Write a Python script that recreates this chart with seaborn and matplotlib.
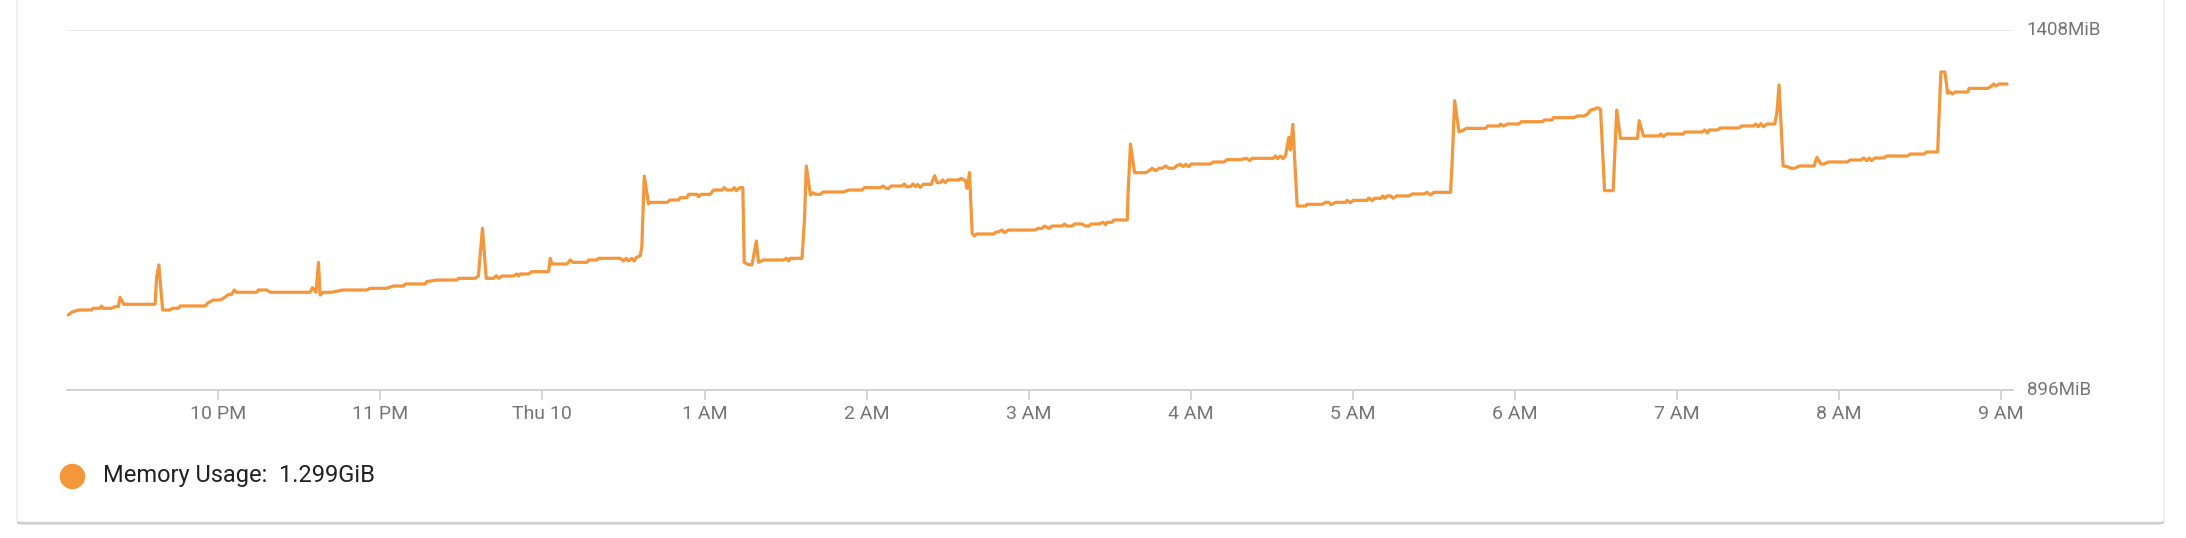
import numpy as np
import pandas as pd
import matplotlib
matplotlib.use("Agg")
import matplotlib.pyplot as plt
from matplotlib.patches import FancyBboxPatch
from matplotlib.lines import Line2D
import seaborn as sns

# ---------------- data ----------------
# minutes after 21:00 (Wed 9) and memory usage in MiB
minutes = [
    4.5, 5.7, 8.2, 13.1, 13.7, 16.2, 16.8, 17.4, 20.5, 21.8, 23.0, 23.6, 25.1, 36.6, 37.2, 38.0,
    39.4, 42.1, 43.1, 45.2, 45.9, 55.1, 56.3, 58.2, 60.7, 61.9, 63.8, 65.0, 65.9, 66.8, 74.2,
    74.9, 78.0, 79.2, 94.0, 94.9, 96.2, 97.1, 97.7, 98.9, 102.0, 106.1, 115.0, 116.2, 122.2,
    124.9, 128.6, 129.2, 136.6, 137.2, 140.9, 148.3, 149.0, 155.1, 156.3, 157.8, 159.2, 161.9,
    162.9, 163.8, 165.0, 169.3, 170.5, 171.2, 171.8, 174.9, 176.1, 182.3, 182.9, 183.5, 189.1,
    190.3, 191.3, 196.5, 197.1, 200.2, 200.8, 208.8, 210.0, 211.0, 211.9, 213.1, 214.0, 214.7,
    216.2, 216.8, 217.7, 219.3, 219.9, 226.1, 227.3, 230.4, 231.0, 233.5, 234.1, 237.2, 237.8,
    238.7, 242.1, 243.4, 246.5, 247.3, 248.3, 250.2, 251.0, 251.8, 253.0, 254.2, 254.7, 256.3,
    257.6, 259.2, 260.0, 261.9, 269.3, 270.3, 271.2, 271.8, 276.1, 277.0, 277.7, 279.2, 280.2,
    281.1, 282.9, 283.9, 291.5, 293.4, 298.3, 299.2, 305.1, 306.1, 307.3, 308.2, 309.0, 313.1,
    314.0, 314.7, 316.2, 317.2, 318.1, 318.9, 319.9, 320.9, 323.9, 325.2, 326.1, 327.3, 328.2,
    329.2, 330.0, 334.1, 335.0, 336.6, 337.2, 338.1, 339.1, 339.9, 340.9, 347.1, 347.7, 348.9,
    350.2, 351.0, 352.6, 362.5, 363.4, 365.0, 365.9, 367.5, 368.7, 372.4, 373.3, 374.2, 376.1,
    377.0, 379.8, 381.0, 382.3, 383.1, 386.0, 387.6, 388.4, 389.1, 390.9, 391.5, 396.5, 396.8,
    397.7, 399.2, 403.3, 404.5, 405.7, 407.0, 408.2, 409.4, 410.7, 411.9, 413.8, 414.7, 416.2,
    417.2, 418.1, 419.3, 420.2, 427.3, 428.3, 432.3, 433.5, 438.4, 440.6, 441.9, 442.7, 450.5,
    451.4, 452.2, 453.2, 454.2, 455.1, 456.3, 456.9, 457.8, 459.4, 462.5, 463.1, 468.7, 469.9,
    471.1, 472.0, 473.6, 477.3, 477.9, 479.1, 480.1, 485.3, 485.9, 487.2, 488.0, 490.3, 491.1,
    491.9, 492.7, 494.0, 494.9, 496.2, 500.8, 502.0, 506.3, 507.5, 508.8, 510.0, 516.2, 516.8,
    517.7, 519.3, 520.5, 522.1, 529.1, 530.0, 534.1, 534.7, 535.9, 537.2, 541.5, 542.4, 550.1,
    551.0, 553.8, 554.2, 561.9, 563.1, 565.6, 566.8, 568.0, 569.3, 570.5, 571.7, 573.2, 576.4,
    577.7, 579.1, 585.4, 586.0, 587.6, 593.4, 594.0, 595.0, 596.2, 602.4, 603.0, 609.4, 610.3,
    611.3, 611.9, 615.0, 616.0, 623.0, 623.9, 628.3, 629.2, 630.1, 631.1, 632.0, 633.3, 636.2,
    637.0, 637.8, 639.3, 640.9, 642.4, 643.6, 645.3, 650.8, 651.8, 653.3, 654.5, 656.0, 663.2,
    664.1, 668.1, 669.1, 670.3, 671.2, 672.0, 673.3, 676.7, 677.6, 685.4, 686.4, 691.5, 692.4,
    696.5, 697.7, 699.2, 700.2, 700.8, 702.0, 702.9, 707.6, 708.2, 715.0, 716.2, 717.2, 718.1,
    719.3, 722.2,
]
memory_mib = [
    1002.7, 1006.5, 1009.8, 1009.8, 1012.2, 1012.2, 1015.5, 1012.2, 1012.2, 1014.5, 1014.5, 1027.8, 1017.9, 1017.9, 1057.0, 1073.8,
    1009.8, 1009.8, 1012.2, 1012.2, 1015.5, 1015.5, 1020.2, 1024.0, 1024.0, 1026.4, 1032.0, 1032.0, 1038.2, 1035.0, 1035.0,
    1038.2, 1038.2, 1035.0, 1035.0, 1041.6, 1035.0, 1077.5, 1031.0, 1035.0, 1035.0, 1038.2, 1038.2, 1040.6, 1040.6,
    1043.9, 1043.9, 1046.8, 1046.8, 1050.1, 1052.4, 1052.4, 1054.8, 1054.8, 1058.1, 1125.9, 1054.8, 1054.8,
    1058.6, 1054.8, 1058.1, 1058.1, 1061.0, 1058.1, 1061.0, 1061.0, 1064.3, 1064.3, 1083.3, 1075.2, 1075.2,
    1080.9, 1077.6, 1077.6, 1080.9, 1080.9, 1083.3, 1083.3, 1079.5, 1083.3, 1079.5, 1083.3, 1079.5, 1084.2,
    1087.1, 1099.8, 1200.3, 1160.5, 1162.9, 1162.9, 1166.2, 1166.2, 1169.5, 1169.5, 1174.3, 1174.3, 1171.0,
    1174.3, 1174.3, 1180.4, 1180.4, 1183.8, 1180.4, 1180.4, 1183.8, 1179.5, 1183.8, 1183.8, 1077.6, 1074.2,
    1074.2, 1107.9, 1077.6, 1080.9, 1080.9, 1083.3, 1079.5, 1083.3, 1083.3, 1137.8, 1214.6, 1173.3, 1176.6,
    1174.3, 1174.3, 1177.6, 1177.6, 1180.4, 1180.4, 1183.8, 1183.8, 1186.1, 1182.8, 1182.8, 1186.1, 1186.1,
    1189.0, 1185.2, 1185.2, 1189.0, 1185.2, 1188.5, 1184.2, 1188.5, 1188.5, 1200.8, 1190.9, 1190.9, 1194.7,
    1190.9, 1194.7, 1194.7, 1197.0, 1193.7, 1182.8, 1205.1, 1118.8, 1115.0, 1117.9, 1117.9, 1120.2, 1121.2,
    1123.5, 1119.7, 1123.5, 1123.5, 1125.9, 1125.9, 1129.2, 1125.9, 1129.2, 1129.2, 1132.1, 1129.2, 1129.2,
    1132.1, 1132.1, 1129.2, 1129.2, 1132.1, 1132.1, 1134.5, 1131.1, 1134.5, 1134.5, 1137.8, 1137.8, 1175.7,
    1245.9, 1205.1, 1205.1, 1207.5, 1211.3, 1207.9, 1211.3, 1211.3, 1214.6, 1211.3, 1211.3, 1214.6, 1217.0,
    1213.7, 1217.0, 1213.7, 1217.4, 1217.4, 1220.3, 1220.3, 1223.6, 1223.6, 1225.5, 1222.2, 1225.5, 1225.5,
    1228.8, 1225.0, 1228.8, 1225.0, 1229.3, 1255.3, 1237.3, 1273.8, 1157.7, 1157.7, 1160.1, 1160.1, 1162.9,
    1162.9, 1159.6, 1162.9, 1162.9, 1165.7, 1162.4, 1165.7, 1165.7, 1169.1, 1165.2, 1168.6, 1168.6, 1172.0,
    1168.6, 1172.0, 1172.0, 1168.6, 1172.0, 1172.0, 1174.8, 1174.8, 1177.1, 1173.3, 1177.1, 1177.1, 1223.1,
    1307.5, 1263.4, 1264.8, 1268.1, 1268.1, 1271.5, 1271.5, 1274.3, 1271.5, 1274.3, 1274.3, 1277.6, 1277.6,
    1280.0, 1280.0, 1283.3, 1283.3, 1285.7, 1285.7, 1288.1, 1294.2, 1295.2, 1297.5, 1295.2, 1179.5, 1179.5,
    1294.2, 1253.9, 1253.9, 1279.1, 1257.3, 1257.3, 1260.1, 1256.3, 1260.1, 1260.1, 1262.9, 1262.9, 1265.8,
    1261.5, 1265.8, 1265.8, 1268.6, 1268.6, 1271.5, 1271.5, 1274.3, 1270.5, 1274.8, 1270.5, 1274.3, 1274.3,
    1290.4, 1329.8, 1214.6, 1213.6, 1211.3, 1211.3, 1214.6, 1214.6, 1226.9, 1217.4, 1217.4, 1220.3, 1220.3,
    1223.1, 1223.1, 1226.0, 1222.2, 1226.0, 1222.2, 1226.0, 1226.0, 1228.8, 1228.8, 1231.6, 1231.6, 1234.5,
    1234.5, 1348.3, 1348.3, 1317.9, 1320.3, 1317.0, 1319.8, 1319.8, 1325.0, 1325.0, 1327.4, 1331.2, 1328.4,
    1331.2, 1331.2,
]
y_range = [896, 1408]
y_tick_labels = ["896MiB", "1408MiB"]
x_tick_labels = ["10 PM", "11 PM", "Thu 10", "1 AM", "2 AM", "3 AM", "4 AM",
                 "5 AM", "6 AM", "7 AM", "8 AM", "9 AM"]
legend_label = "Memory Usage:  1.299GiB"

base = pd.Timestamp("2019-10-09 21:00")
df = pd.DataFrame({
    "time": base + pd.to_timedelta(minutes, unit="min"),
    "mib": memory_mib,
})

# ---------------- style ----------------
ORANGE = "#F4963A"
sns.set_theme(style="white")
plt.rcParams["font.family"] = ["Roboto", "DejaVu Sans"]

W, H = 2186, 538
fig = plt.figure(figsize=(W / 100, H / 100), dpi=100)
fig.patch.set_facecolor("white")

# card background with shadow
card_l, card_r, card_b = 17 / W, 2164 / W, (H - 522) / H
shadow = FancyBboxPatch((card_l, card_b - 2.5 / H), card_r - card_l, 1.1 - card_b,
                        boxstyle="round,pad=0,rounding_size=0.003",
                        transform=fig.transFigure, facecolor="#c9c9c9",
                        edgecolor="none", zorder=-3)
card = FancyBboxPatch((card_l, card_b), card_r - card_l, 1.1 - card_b,
                      boxstyle="round,pad=0,rounding_size=0.003",
                      transform=fig.transFigure, facecolor="white",
                      edgecolor="#e4e4e4", linewidth=0.8, zorder=-2)
fig.patches.extend([shadow, card])

ax_l, ax_r = 67 / W, 2013 / W
ax_b, ax_t = (H - 390) / H, (H - 30) / H
ax = fig.add_axes([ax_l, ax_b, ax_r - ax_l, ax_t - ax_b])
ax.set_facecolor("none")
ax.set_zorder(1)

sns.lineplot(data=df, x="time", y="mib", color=ORANGE, linewidth=2.3, ax=ax,
             legend=False, zorder=3)

ax.set_xlim(base + pd.Timedelta(minutes=4.0), base + pd.Timedelta(minutes=724.4))
ax.set_ylim(*y_range)

# x ticks (hourly)
hours = pd.date_range(base + pd.Timedelta(hours=1), periods=len(x_tick_labels), freq="h")
ax.set_xticks(hours)
ax.set_xticklabels(x_tick_labels)
ax.tick_params(axis="x", length=7, width=1.3, color="#d3d3d3", pad=4,
               labelsize=14, labelcolor="#757575", bottom=True)

# y labels on right
ax.yaxis.tick_right()
ax.set_yticks(y_range)
ax.set_yticklabels(y_tick_labels)
ax.tick_params(axis="y", length=0, pad=10, labelsize=13.5, labelcolor="#757575")
for lbl in ax.get_yticklabels():
    lbl.set_verticalalignment("center")

ax.yaxis.grid(True, color="#e6e6e6", linewidth=1.4)
ax.xaxis.grid(False)
for s in ["top", "left", "right"]:
    ax.spines[s].set_visible(False)
ax.spines["bottom"].set_color("#d3d3d3")
ax.spines["bottom"].set_linewidth(1.4)
ax.set_xlabel("")
ax.set_ylabel("")

# legend
fig.add_artist(Line2D([72 / W], [(H - 476) / H], marker="o", markersize=17.3,
                      color=ORANGE, linestyle="None", transform=fig.transFigure))
fig.text(103 / W, (H - 482) / H, legend_label, fontsize=17, color="#212121",
         ha="left", va="baseline")

fig.savefig("out.png", dpi=100, facecolor="white")
